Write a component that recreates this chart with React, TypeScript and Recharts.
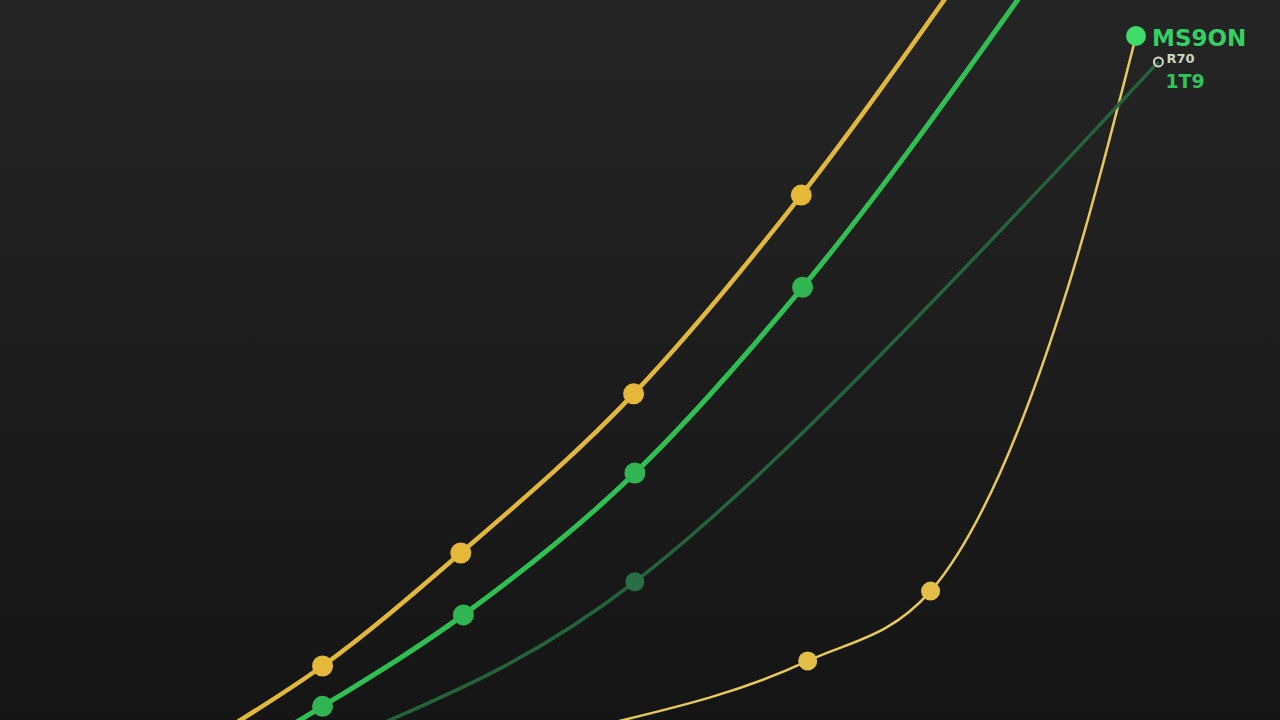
import React from "react";
import { ComposedChart, Line, XAxis, YAxis } from "recharts";

// x in 0..100 (horizontal), y in 0..100 (vertical)
const goldX = [17.8, 25.2, 36.0, 49.5, 62.6, 75.0];
const goldY = [-1.1, 7.5, 23.2, 45.3, 72.9, 103.1];
const goldDots = [0, 1, 1, 1, 1, 0];

const greenX = [22.7, 25.2, 36.2, 49.6, 62.7, 80.5];
const greenY = [-0.8, 1.9, 14.6, 34.3, 60.1, 102.5];
const greenDots = [0, 1, 1, 1, 1, 0];

const darkX = [29.7, 49.6, 72.9, 90.5];
const darkY = [-0.6, 19.2, 58.2, 91.4];
const darkDots = [0, 1, 0, 2];

const thinX = [48.0, 63.1, 72.7, 78.1, 83.4, 88.75];
const thinY = [-0.3, 8.2, 17.9, 34.2, 59.9, 95.0];
const thinDots = [0, 1, 1, 0, 0, 3];

const tagTexts = ["MS9ON", "R70", "1T9"];

const build = (xs: number[], ys: number[], ds: number[]) =>
  xs.map((x, i) => ({ x, y: ys[i], d: ds[i] }));

const goldData = build(goldX, goldY, goldDots);
const greenData = build(greenX, greenY, greenDots);
const darkData = build(darkX, darkY, darkDots);
const thinData = build(thinX, thinY, thinDots);

const makeDot = (fill: string, r: number) => (props: any) => {
  const { cx, cy, payload, index } = props;
  const k = `d${index}`;
  if (!payload || !payload.d) return <g key={k} />;
  if (payload.d === 2) {
    return (
      <g key={k}>
        <circle cx={cx} cy={cy} r={4.5} fill="none" stroke="#d8d8d0" strokeWidth={2} />
        <text x={cx + 8} y={cy + 1} fill="#c9d8c0" fontSize={13} fontWeight={700} fontFamily="DejaVu Sans">
          {tagTexts[1]}
        </text>
        <text x={cx + 7} y={cy + 26} fill="#2fc45a" fontSize={19} fontWeight={700} fontFamily="DejaVu Sans">
          {tagTexts[2]}
        </text>
      </g>
    );
  }
  if (payload.d === 3) {
    return (
      <g key={k}>
        <circle cx={cx} cy={cy} r={10} fill="#3ddc6a" />
        <text x={cx + 16} y={cy + 10} fill="#35d064" fontSize={23} fontWeight={700} fontFamily="DejaVu Sans">
          {tagTexts[0]}
        </text>
      </g>
    );
  }
  return <circle key={k} cx={cx} cy={cy} r={r} fill={fill} />;
};

export default function App() {
  return (
    <div
      style={{
        position: "fixed",
        left: 0,
        top: 0,
        width: 1280,
        height: 720,
        background: "linear-gradient(180deg, #252525 0%, #1c1c1c 55%, #151515 100%)",
      }}
    >
      <ComposedChart width={1280} height={720} margin={{ top: 0, right: 0, bottom: 0, left: 0 }}>
        <XAxis type="number" dataKey="x" domain={[0, 100]} hide allowDataOverflow />
        <YAxis type="number" domain={[0, 100]} hide allowDataOverflow />
        <Line
          data={thinData}
          dataKey="y"
          type="monotone"
          stroke="#e6c95a"
          strokeWidth={2.5}
          dot={makeDot("#e3bf48", 9.5)}
          isAnimationActive={false}
        />
        <Line
          data={darkData}
          dataKey="y"
          type="natural"
          stroke="#24633b"
          strokeWidth={3.5}
          dot={makeDot("#2a6e45", 9.5)}
          isAnimationActive={false}
        />
        <Line
          data={greenData}
          dataKey="y"
          type="monotone"
          stroke="#2fbf52"
          strokeWidth={5}
          dot={makeDot("#30b552", 10.5)}
          isAnimationActive={false}
        />
        <Line
          data={goldData}
          dataKey="y"
          type="monotone"
          stroke="#e2b83c"
          strokeWidth={4.5}
          dot={makeDot("#e5b83a", 10.5)}
          isAnimationActive={false}
        />
      </ComposedChart>
    </div>
  );
}
